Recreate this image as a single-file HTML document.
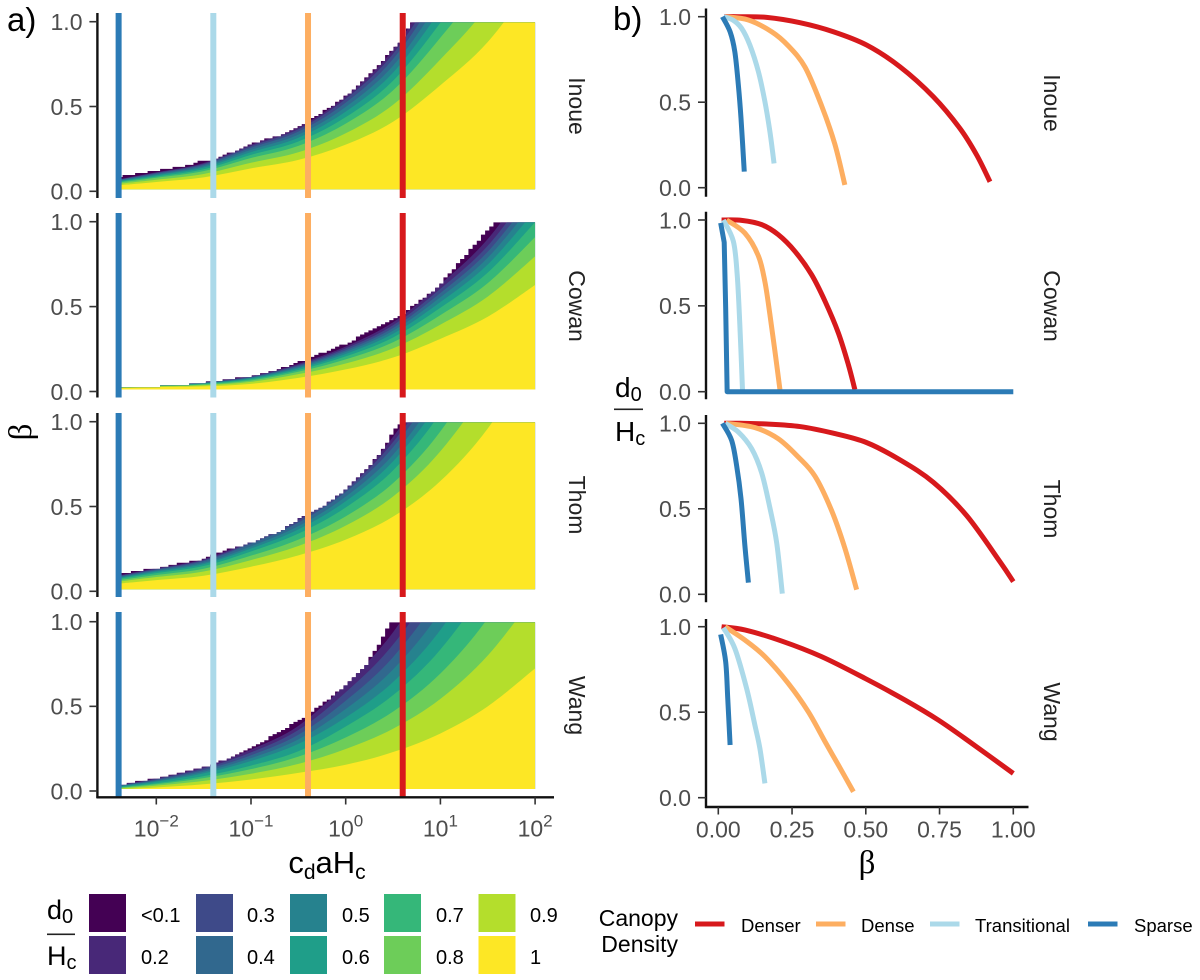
<!DOCTYPE html>
<html lang="en">
<head>
<meta charset="utf-8">
<title>Displacement height by canopy density</title>
<style>
html,body{margin:0;padding:0;background:#fff;width:1200px;height:980px;overflow:hidden}
svg{display:block;filter:blur(0.3px)}
text{font-family:"Liberation Sans",Arial,sans-serif}
.serif{font-family:"Liberation Serif","DejaVu Serif",serif}
</style>
</head>
<body>
<svg id="chart" xmlns="http://www.w3.org/2000/svg" width="1200" height="980" viewBox="0 0 1200 980">
  <rect width="1200" height="980" fill="#fff"/>
  <defs id="defs"></defs>
  <g id="panel-a"></g>
  <g id="panel-b"></g>

  <text x="7" y="31" font-size="33" fill="#000">a)</text>
  <text x="613" y="30" font-size="33" fill="#000">b)</text>

  <text class="serif" transform="translate(31 432) rotate(-90)" text-anchor="middle" font-size="33" fill="#000">β</text>
  <text x="327" y="873" text-anchor="middle" font-size="31" fill="#000">c<tspan font-size="21" dy="6">d</tspan><tspan dy="-6">aH</tspan><tspan font-size="21" dy="6">c</tspan></text>

  <g>
    <text x="615" y="397" font-size="28" fill="#000">d<tspan font-size="20" dy="4">0</tspan></text>
    <rect x="614" y="408.5" width="29" height="1.6" fill="#222"/>
    <text x="615" y="441" font-size="28" fill="#000">H<tspan font-size="20" dy="4">c</tspan></text>
  </g>
  <text class="serif" x="867" y="873" text-anchor="middle" font-size="33" fill="#000">β</text>

  <g>
    <text x="47" y="919" font-size="27" fill="#000">d<tspan font-size="20" dy="4">0</tspan></text>
    <rect x="47" y="933.5" width="28" height="1.6" fill="#222"/>
    <text x="47" y="965" font-size="27" fill="#000">H<tspan font-size="20" dy="4">c</tspan></text>
  </g>
  <g id="fill-legend"></g>

  <g>
    <text x="678" y="926" text-anchor="end" font-size="23" fill="#000">Canopy</text>
    <text x="678" y="952" text-anchor="end" font-size="23" fill="#000">Density</text>
  </g>
  <g id="line-legend"></g>
</svg>

<script>
/* ---------- shared categories ---------- */
const methodNames = ['Inoue', 'Cowan', 'Thom', 'Wang'];
const canopyNames = ['Denser', 'Dense', 'Transitional', 'Sparse'];
const canopyCdaHc = [4, 0.4, 0.04, 0.004];
const fillLevelLabels = ['<0.1', '0.2', '0.3', '0.4', '0.5', '0.6', '0.7', '0.8', '0.9', '1'];
const yTickValues = [0, 0.5, 1];
const yTickLabels = ['0.0', '0.5', '1.0'];
const logTickValues = [-2, -1, 0, 1, 2];
const logTickExponents = ['−2', '−1', '0', '1', '2'];
const betaTickValues = [0, 0.25, 0.5, 0.75, 1];
const betaTickLabels = ['0.00', '0.25', '0.50', '0.75', '1.00'];

/* ---------- panel a: d0/Hc contour levels, beta at each log10(cdaHc) grid value ---------- */
const logGrid = [-2.4, -2, -1.5, -1, -0.5, 0, 0.5, 1, 1.5, 2];

const inoueBounds = [
  [0.035, 0.055, 0.082, 0.135, 0.185, 0.275, 0.41, 0.625, 0.88, 1.25],
  [0.044, 0.068, 0.102, 0.168, 0.23, 0.342, 0.51, 0.778, 1.096, 1.556],
  [0.051, 0.08, 0.119, 0.196, 0.268, 0.399, 0.595, 0.906, 1.276, 1.81],
  [0.056, 0.087, 0.13, 0.215, 0.294, 0.437, 0.652, 0.994, 1.4, 1.99],
  [0.06, 0.094, 0.14, 0.231, 0.316, 0.47, 0.7, 1.069, 1.505, 2.14],
  [0.063, 0.099, 0.148, 0.244, 0.334, 0.497, 0.74, 1.129, 1.589, 2.26],
  [0.067, 0.105, 0.156, 0.257, 0.352, 0.523, 0.78, 1.188, 1.672, 2.38],
  [0.069, 0.109, 0.162, 0.267, 0.366, 0.545, 0.81, 1.238, 1.742, 2.48],
  [0.071, 0.112, 0.167, 0.275, 0.377, 0.561, 0.836, 1.275, 1.795, 2.55]
];
const inoueTopLog = [-2.4, -2, -1.7, -1.52, -1.39, -1, -0.7, -0.4, 0, 0.22, 0.38, 0.6, 0.69, 0.78, 2];
const inoueTopBeta = [0.085, 0.122, 0.15, 0.18, 0.185, 0.28, 0.33, 0.41, 0.56, 0.675, 0.765, 0.9, 0.99, 1, 1];

const cowanBounds = [
  [0.02, 0.026, 0.03, 0.045, 0.08, 0.13, 0.2, 0.31, 0.44, 0.627],
  [0.022, 0.03, 0.037, 0.057, 0.102, 0.165, 0.254, 0.394, 0.559, 0.796],
  [0.024, 0.032, 0.041, 0.065, 0.116, 0.189, 0.29, 0.45, 0.638, 0.909],
  [0.025, 0.034, 0.045, 0.072, 0.127, 0.207, 0.318, 0.493, 0.7, 0.997],
  [0.026, 0.035, 0.048, 0.077, 0.136, 0.221, 0.34, 0.527, 0.748, 1.066],
  [0.027, 0.036, 0.05, 0.081, 0.143, 0.233, 0.358, 0.555, 0.788, 1.122],
  [0.028, 0.037, 0.052, 0.084, 0.15, 0.243, 0.374, 0.58, 0.823, 1.172],
  [0.029, 0.038, 0.055, 0.088, 0.156, 0.254, 0.39, 0.605, 0.858, 1.223],
  [0.03, 0.04, 0.057, 0.092, 0.163, 0.265, 0.408, 0.632, 0.898, 1.279]
];
const cowanTopLog = [-2.4, -2, -1.7, -1.4, -1, -0.7, -0.4, 0, 0.3, 0.6, 0.77, 0.95, 1.19, 1.435, 1.6, 2];
const cowanTopBeta = [0.02, 0.028, 0.04, 0.06, 0.09, 0.13, 0.195, 0.28, 0.37, 0.455, 0.53, 0.6, 0.755, 0.91, 1, 1];

const thomBounds = [
  [0.045, 0.066, 0.092, 0.145, 0.212, 0.305, 0.44, 0.65, 0.96, 1.4],
  [0.057, 0.084, 0.117, 0.184, 0.267, 0.387, 0.559, 0.826, 1.219, 1.778],
  [0.065, 0.096, 0.133, 0.21, 0.305, 0.442, 0.638, 0.943, 1.392, 2.03],
  [0.073, 0.107, 0.149, 0.235, 0.34, 0.494, 0.713, 1.053, 1.555, 2.27],
  [0.078, 0.115, 0.16, 0.252, 0.365, 0.531, 0.766, 1.131, 1.67, 2.44],
  [0.082, 0.121, 0.168, 0.265, 0.384, 0.558, 0.805, 1.19, 1.757, 2.56],
  [0.087, 0.127, 0.178, 0.28, 0.405, 0.585, 0.849, 1.255, 1.853, 2.7],
  [0.09, 0.132, 0.184, 0.29, 0.42, 0.6, 0.88, 1.3, 1.92, 2.8],
  [0.093, 0.137, 0.19, 0.3, 0.435, 0.615, 0.911, 1.346, 1.987, 2.9]
];
const thomTopLog = [-2.4, -2, -1.71, -1.53, -1.395, -1, -0.7, -0.4, -0.22, 0, 0.226, 0.387, 0.548, 0.6, 2];
const thomTopBeta = [0.106, 0.135, 0.17, 0.185, 0.22, 0.287, 0.35, 0.46, 0.51, 0.597, 0.725, 0.833, 0.98, 1, 1];

const wangBounds = [
  [0.01, 0.021, 0.04, 0.068, 0.107, 0.155, 0.23, 0.34, 0.5, 0.724],
  [0.015, 0.032, 0.06, 0.102, 0.16, 0.248, 0.368, 0.544, 0.8, 1.158],
  [0.019, 0.04, 0.076, 0.129, 0.203, 0.316, 0.469, 0.694, 1.02, 1.477],
  [0.022, 0.046, 0.088, 0.15, 0.235, 0.381, 0.566, 0.836, 1.23, 1.781],
  [0.026, 0.055, 0.104, 0.177, 0.278, 0.434, 0.644, 0.952, 1.4, 2.027],
  [0.029, 0.06, 0.114, 0.194, 0.305, 0.484, 0.718, 1.061, 1.56, 2.259],
  [0.031, 0.065, 0.124, 0.211, 0.332, 0.533, 0.791, 1.17, 1.72, 2.49],
  [0.034, 0.071, 0.134, 0.228, 0.36, 0.583, 0.865, 1.278, 1.88, 2.722],
  [0.036, 0.076, 0.144, 0.245, 0.385, 0.632, 0.938, 1.387, 2.04, 2.954]
];
const wangTopLog = [-2.4, -2, -1.75, -1.53, -1.395, -1, -0.7, -0.4, -0.22, 0, 0.226, 0.387, 0.468, 0.51, 2];
const wangTopBeta = [0.035, 0.075, 0.108, 0.138, 0.157, 0.25, 0.35, 0.45, 0.527, 0.626, 0.754, 0.9, 0.99, 1, 1];

/* ---------- panel b: d0/Hc as a function of beta ---------- */
const inoueDenserBeta = [0.02, 0.073, 0.164, 0.277, 0.39, 0.503, 0.616, 0.729, 0.819, 0.876, 0.921];
const inoueDenserD = [1, 1, 0.996, 0.965, 0.912, 0.834, 0.707, 0.532, 0.347, 0.191, 0.035];
const inoueDenseBeta = [0.023, 0.102, 0.181, 0.237, 0.294, 0.35, 0.395, 0.429];
const inoueDenseD = [1, 0.981, 0.912, 0.83, 0.705, 0.48, 0.255, 0.016];
const inoueTransBeta = [0.018, 0.05, 0.079, 0.107, 0.136, 0.158, 0.175, 0.189];
const inoueTransD = [1, 0.98, 0.932, 0.834, 0.678, 0.503, 0.327, 0.142];
const inoueSparseBeta = [0.014, 0.04, 0.056, 0.068, 0.077, 0.088];
const inoueSparseD = [1, 0.912, 0.795, 0.6, 0.405, 0.094];

const cowanDenserBeta = [0.011, 0.079, 0.147, 0.203, 0.26, 0.316, 0.362, 0.407, 0.441, 0.463];
const cowanDenserD = [1, 0.998, 0.973, 0.915, 0.817, 0.682, 0.526, 0.342, 0.157, 0.012];
const cowanDenseBeta = [0.028, 0.09, 0.136, 0.158, 0.175, 0.192, 0.209];
const cowanDenseD = [1, 0.924, 0.79, 0.64, 0.449, 0.235, 0.012];
const cowanTransBeta = [0.017, 0.051, 0.064, 0.073, 0.082];
const cowanTransD = [1, 0.876, 0.682, 0.39, 0.012];
const cowanSparseBeta = [0.008, 0.02, 0.025, 0.03, 1];
const cowanSparseD = [0.983, 0.87, 0.49, 0, 0];

const thomDenserBeta = [0.02, 0.073, 0.164, 0.277, 0.39, 0.503, 0.616, 0.729, 0.842, 0.955, 1];
const thomDenserD = [1, 1, 0.996, 0.981, 0.942, 0.887, 0.786, 0.655, 0.46, 0.19, 0.074];
const thomDenseBeta = [0.025, 0.124, 0.203, 0.271, 0.328, 0.384, 0.429, 0.469];
const thomDenseD = [1, 0.975, 0.91, 0.803, 0.69, 0.49, 0.27, 0.027];
const thomTransBeta = [0.023, 0.068, 0.113, 0.147, 0.175, 0.198, 0.217];
const thomTransD = [1, 0.949, 0.852, 0.71, 0.505, 0.3, 0.004];
const thomSparseBeta = [0.014, 0.045, 0.062, 0.077, 0.09, 0.102];
const thomSparseD = [1, 0.901, 0.754, 0.559, 0.287, 0.068];

const wangDenserBeta = [0.011, 0.09, 0.215, 0.35, 0.497, 0.633, 0.746, 0.859, 1];
const wangDenserD = [1, 0.981, 0.916, 0.825, 0.698, 0.571, 0.454, 0.318, 0.142];
const wangDenseBeta = [0.023, 0.09, 0.158, 0.237, 0.305, 0.362, 0.407, 0.458];
const wangDenseD = [1, 0.922, 0.825, 0.669, 0.503, 0.327, 0.191, 0.035];
const wangTransBeta = [0.017, 0.056, 0.096, 0.124, 0.141, 0.158];
const wangTransD = [0.994, 0.873, 0.639, 0.425, 0.288, 0.084];
const wangSparseBeta = [0.008, 0.025, 0.032, 0.04];
const wangSparseD = [0.955, 0.795, 0.581, 0.308];

/* ---------- groupings (references only) ---------- */
const heatBounds = [inoueBounds, cowanBounds, thomBounds, wangBounds];
const heatTopLog = [inoueTopLog, cowanTopLog, thomTopLog, wangTopLog];
const heatTopBeta = [inoueTopBeta, cowanTopBeta, thomTopBeta, wangTopBeta];
const curveBeta = [
  [inoueDenserBeta, inoueDenseBeta, inoueTransBeta, inoueSparseBeta],
  [cowanDenserBeta, cowanDenseBeta, cowanTransBeta, cowanSparseBeta],
  [thomDenserBeta, thomDenseBeta, thomTransBeta, thomSparseBeta],
  [wangDenserBeta, wangDenseBeta, wangTransBeta, wangSparseBeta]
];
const curveD = [
  [inoueDenserD, inoueDenseD, inoueTransD, inoueSparseD],
  [cowanDenserD, cowanDenseD, cowanTransD, cowanSparseD],
  [thomDenserD, thomDenseD, thomTransD, thomSparseD],
  [wangDenserD, wangDenseD, wangTransD, wangSparseD]
];

/* ---------- styles and layout ---------- */
const viridisColors = ['#440154', '#482878', '#3e4a89', '#31688e', '#26828e', '#1f9e89', '#35b779', '#6dcd59', '#b4de2c', '#fde725'];
const canopyColors = ['#d7191c', '#fdae61', '#abd9e9', '#2c7bb6'];
const TICK_GRAY = '#4d4d4d';
const NS = 'http://www.w3.org/2000/svg';

function xHeat(logValue) { return 345.7 + 94.7 * logValue; }
function xBeta(beta) { return 718.3 + 295 * beta; }
function yAxis(y0, y1, value) { return y0 - (y0 - y1) * value; }
function slug(text) { return text.toLowerCase().replace(/[^a-z0-9]+/g, '-').replace(/^-|-$/g, ''); }

function mk(tag, parent, attrs) {
  const el = document.createElementNS(NS, tag);
  for (const k in attrs) el.setAttribute(k, attrs[k]);
  parent.appendChild(el);
  return el;
}
function interp(xs, ys, x) {
  if (x <= xs[0]) return ys[0];
  for (let i = 1; i < xs.length; i++) {
    if (x <= xs[i]) {
      const t = (x - xs[i - 1]) / (xs[i] - xs[i - 1]);
      return ys[i - 1] + t * (ys[i] - ys[i - 1]);
    }
  }
  return ys[ys.length - 1];
}
function smoothSegments(pts) {
  let d = '';
  for (let i = 0; i < pts.length - 1; i++) {
    const p0 = pts[Math.max(0, i - 1)], p1 = pts[i], p2 = pts[i + 1], p3 = pts[Math.min(pts.length - 1, i + 2)];
    const c1x = p1[0] + (p2[0] - p0[0]) / 6, c1y = p1[1] + (p2[1] - p0[1]) / 6;
    const c2x = p2[0] - (p3[0] - p1[0]) / 6, c2y = p2[1] - (p3[1] - p1[1]) / 6;
    d += 'C' + c1x.toFixed(2) + ' ' + c1y.toFixed(2) + ' ' + c2x.toFixed(2) + ' ' + c2y.toFixed(2) + ' ' + p2[0].toFixed(2) + ' ' + p2[1].toFixed(2);
  }
  return d;
}
function linearSegments(pts) {
  return pts.slice(1).map(function (p) { return 'L' + p[0].toFixed(2) + ' ' + p[1].toFixed(2); }).join('');
}

const defs = document.getElementById('defs');
const panelA = document.getElementById('panel-a');
const panelB = document.getElementById('panel-b');
const AXIS_COLOR = '#111';

/* ---------- panel a ---------- */
const heatLayout = [
  { y1: 21.7, y0: 191.3, top: 13, bottom: 198, stripY: 106 },
  { y1: 221.7, y0: 391.5, top: 213, bottom: 397.5, stripY: 306 },
  { y1: 421.7, y0: 591.3, top: 413, bottom: 597, stripY: 505 },
  { y1: 621.7, y0: 791, top: 612, bottom: 797, stripY: 705.5 }
];
const AXIS_A_X = 97.4;

methodNames.forEach(function (method, m) {
  const L = heatLayout[m];
  const key = slug(method);
  const g = mk('g', panelA, {});
  
  

  /* staircase clip from the onset edge */
  const columnCount = 100;
  const columnWidth = 4.4 / columnCount;
  const betaStep = 0.012;
  const floorBeta = 0.012;
  let clipD = 'M' + xHeat(-2.4).toFixed(2) + ' ' + yAxis(L.y0, L.y1, floorBeta).toFixed(2);
  for (let i = 0; i < columnCount; i++) {
    const left = -2.4 + i * columnWidth;
    const raw = interp(heatTopLog[m], heatTopBeta[m], left + columnWidth / 2);
    const stepped = Math.min(1, Math.round(raw / betaStep) * betaStep);
    const yy = yAxis(L.y0, L.y1, stepped).toFixed(2);
    clipD += 'L' + xHeat(left).toFixed(2) + ' ' + yy + 'L' + xHeat(left + columnWidth).toFixed(2) + ' ' + yy;
  }
  clipD += 'L' + xHeat(2).toFixed(2) + ' ' + yAxis(L.y0, L.y1, floorBeta).toFixed(2) + 'Z';
  const clip = mk('clipPath', defs, { id: 'clip-' + key });
  mk('path', clip, { d: clipD });

  const field = mk('g', g, { 'clip-path': 'url(#clip-' + key + ')' });
  
  

  const base = mk('rect', field, {
    x: xHeat(-2.4), y: L.y1, width: xHeat(2) - xHeat(-2.4), height: L.y0 - L.y1, fill: viridisColors[0]
  });
  
  

  const rows = heatBounds[m];
  for (let k = rows.length - 1; k >= 0; k--) {
    const levelIndex = rows.length - k;
    const pts = logGrid.map(function (lg, i) { return [xHeat(lg), yAxis(L.y0, L.y1, rows[k][i])]; });
    const bottomY = L.y0 + 2;
    const d = 'M' + pts[0][0].toFixed(2) + ' ' + bottomY + 'L' + pts[0][0].toFixed(2) + ' ' + pts[0][1].toFixed(2) + smoothSegments(pts) + 'L' + pts[pts.length - 1][0].toFixed(2) + ' ' + bottomY + 'Z';
    const poly = mk('path', field, { d: d, fill: viridisColors[levelIndex] });
    
    
  }

  /* vertical canopy bands, sparse first so the order runs left to right */
  for (let c = canopyCdaHc.length - 1; c >= 0; c--) {
    const bandX = xHeat(Math.log10(canopyCdaHc[c]));
    const band = mk('rect', g, { x: bandX - 3, y: L.top, width: 6, height: L.bottom - L.top, fill: canopyColors[c] });
    
    
  }

  /* y axis */
  const axisLine = mk('line', g, { x1: AXIS_A_X, x2: AXIS_A_X, y1: L.top, y2: m === 3 ? 798 : L.bottom, stroke: AXIS_COLOR, 'stroke-width': 2.4 });
  
  
  yTickValues.forEach(function (v, t) {
    const yy = yAxis(L.y0, L.y1, v);
    const tick = mk('line', g, { x1: AXIS_A_X - 8, x2: AXIS_A_X, y1: yy, y2: yy, stroke: '#333', 'stroke-width': 1.6 });
    
    
    const lab = mk('text', g, { x: 82.5, y: yy + 8.3, 'text-anchor': 'end', 'font-size': 23, fill: TICK_GRAY });
    lab.textContent = yTickLabels[t];
    
    
  });

  const strip = mk('text', g, { transform: 'translate(577 ' + L.stripY + ') rotate(90)', 'text-anchor': 'middle', 'dominant-baseline': 'central', 'font-size': 23, fill: '#222' });
  strip.textContent = method;
  
  
});

const xAxisA = mk('line', panelA, { x1: AXIS_A_X - 1, x2: 554, y1: 797.3, y2: 797.3, stroke: AXIS_COLOR, 'stroke-width': 2.4 });


logTickValues.forEach(function (lg, i) {
  const xx = xHeat(lg);
  const tick = mk('line', panelA, { x1: xx, x2: xx, y1: 797.3, y2: 804.5, stroke: '#333', 'stroke-width': 1.6 });
  
  
  const lab = mk('text', panelA, { x: xx, y: 836.5, 'text-anchor': 'middle', 'font-size': 23, fill: TICK_GRAY });
  
  
  const base = mk('tspan', lab, {});
  base.textContent = '10';
  const sup = mk('tspan', lab, { 'font-size': 17, dy: -10 });
  sup.textContent = logTickExponents[i];
});

/* ---------- panel b ---------- */
const lineLayout = [
  { y1: 16.7, y0: 187.7, top: 8.5, bottom: 196.7, stripY: 103 },
  { y1: 220, y0: 391.7, top: 211.7, bottom: 399.3, stripY: 306 },
  { y1: 423.3, y0: 594.3, top: 415, bottom: 602.3, stripY: 509 },
  { y1: 626.7, y0: 797.7, top: 619, bottom: 808, stripY: 712 }
];
const AXIS_B_X = 706;

methodNames.forEach(function (method, m) {
  const L = lineLayout[m];
  const key = slug(method);
  const g = mk('g', panelB, {});
  
  

  const axisLine = mk('line', g, { x1: AXIS_B_X, x2: AXIS_B_X, y1: L.top, y2: L.bottom, stroke: AXIS_COLOR, 'stroke-width': 2.4 });
  
  
  yTickValues.forEach(function (v, t) {
    const yy = yAxis(L.y0, L.y1, v);
    const tick = mk('line', g, { x1: AXIS_B_X - 8, x2: AXIS_B_X, y1: yy, y2: yy, stroke: '#333', 'stroke-width': 1.6 });
    
    
    const lab = mk('text', g, { x: 691, y: yy + 8.3, 'text-anchor': 'end', 'font-size': 23, fill: TICK_GRAY });
    lab.textContent = yTickLabels[t];
    
    
  });

  canopyNames.forEach(function (name, c) {
    const pts = curveBeta[m][c].map(function (b, i) { return [xBeta(b), yAxis(L.y0, L.y1, curveD[m][c][i])]; });
    const hasCorner = curveD[m][c][pts.length - 1] === curveD[m][c][pts.length - 2];
    const d = 'M' + pts[0][0].toFixed(2) + ' ' + pts[0][1].toFixed(2) + (hasCorner ? linearSegments(pts) : smoothSegments(pts));
    const curve = mk('path', g, { d: d, fill: 'none', stroke: canopyColors[c], 'stroke-width': 5, 'stroke-linejoin': 'round' });
    
    
  });

  const strip = mk('text', g, { transform: 'translate(1052 ' + L.stripY + ') rotate(90)', 'text-anchor': 'middle', 'dominant-baseline': 'central', 'font-size': 23, fill: '#222' });
  strip.textContent = method;
  
  
});

const xAxisB = mk('line', panelB, { x1: AXIS_B_X - 1, x2: 1028.5, y1: 807, y2: 807, stroke: AXIS_COLOR, 'stroke-width': 2.4 });


betaTickValues.forEach(function (b, i) {
  const xx = xBeta(b);
  const tick = mk('line', panelB, { x1: xx, x2: xx, y1: 807, y2: 814.5, stroke: '#333', 'stroke-width': 1.6 });
  
  
  const lab = mk('text', panelB, { x: xx, y: 837.5, 'text-anchor': 'middle', 'font-size': 23, fill: TICK_GRAY });
  lab.textContent = betaTickLabels[i];
  
  
});

/* ---------- legends ---------- */
const fillLegend = document.getElementById('fill-legend');
const swatchColumns = [89, 196, 290, 384, 478.5];
const labelColumns = [141, 247, 342, 436, 530];
const swatchRows = [894, 936];
fillLevelLabels.forEach(function (label, i) {
  const col = Math.floor(i / 2), row = i % 2;
  const sw = mk('rect', fillLegend, { x: swatchColumns[col], y: swatchRows[row], width: 37, height: 38, fill: viridisColors[i] });
  
  
  const tx = mk('text', fillLegend, { x: labelColumns[col], y: swatchRows[row] + 28, 'font-size': 20, fill: '#000' });
  tx.textContent = label;
  
  
});

const lineLegend = document.getElementById('line-legend');
const legendKeyX = [695, 816, 930, 1088];
const legendTextX = [741, 861, 975, 1134];
canopyNames.forEach(function (name, c) {
  const key = mk('rect', lineLegend, { x: legendKeyX[c], y: 921.5, width: 29.5, height: 5, fill: canopyColors[c] });
  
  
  const tx = mk('text', lineLegend, { x: legendTextX[c], y: 932, 'font-size': 18.5, fill: '#000' });
  tx.textContent = name;
  
  
});
</script>
</body>
</html>
